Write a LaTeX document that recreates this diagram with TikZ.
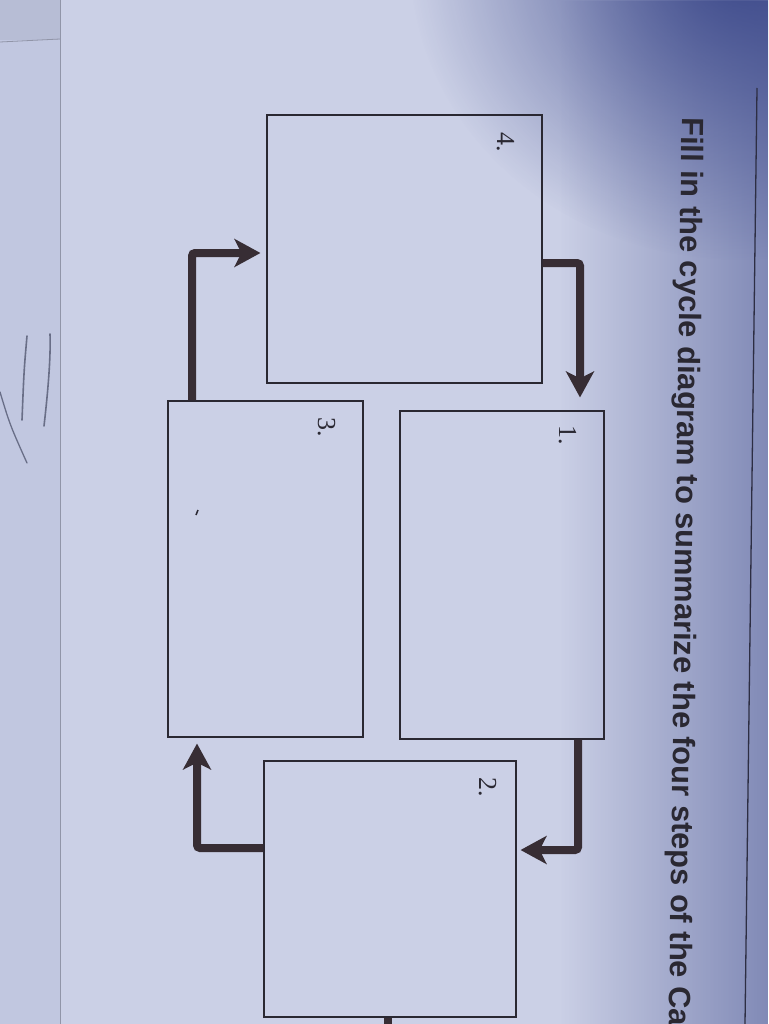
\documentclass[tikz,border=0pt]{standalone}
\usepackage{fontspec}
\setmainfont{Liberation Serif}
\newfontfamily\titlefont{Liberation Sans}
\usetikzlibrary{arrows.meta,calc,fadings}
\definecolor{paper}{RGB}{203,208,230}
\definecolor{paperleft}{RGB}{193,199,224}
\definecolor{shadow}{RGB}{55,68,135}
\definecolor{ink}{RGB}{42,40,50}
\definecolor{arrowink}{RGB}{55,45,52}
\definecolor{pencil}{RGB}{105,110,135}
\tikzfading[name=softspot, inner color=transparent!0, outer color=transparent!100]
\begin{document}
\begin{tikzpicture}[x=1pt,y=-1pt,
  box/.style={draw=ink, line width=1.1pt, inner sep=0pt},
  flow/.style={draw=arrowink, line width=8pt, rounded corners=3pt,
    -{Stealth[length=26pt,width=28pt,inset=7pt]}},
  numlabel/.style={font=\fontsize{26}{28}\selectfont, text=ink, rotate=-90, anchor=north west, inner sep=0pt},
  titletext/.style={font=\titlefont\bfseries\fontsize{30.8}{33}\selectfont, text=ink, rotate=-90.8, anchor=base west, inner sep=0pt}]
\useasboundingbox (0,0) rectangle (768,1024);
\clip (0,0) rectangle (768,1024);
% paper
\fill[paper] (0,0) rectangle (768,1024);
\fill[paperleft] (0,0) rectangle (60,1024);
\fill[paperleft!95!black] (0,0) rectangle (60,40);
\draw[paperleft!75!black, line width=0.8pt] (60,0) -- (60,1024);
\draw[paperleft!75!black, line width=0.8pt] (0,42) -- (60,39);
\fill[shadow, path fading=west, opacity=0.5] (560,0) rectangle (768,1024);
\fill[shadow, path fading=softspot, opacity=0.95] (740,-40) ellipse [x radius=330, y radius=300];
% pencil marks on left sheet
\draw[pencil, line width=1.6pt, line cap=round] (27,336) .. controls (24,370) .. (22,420);
\draw[pencil, line width=1.6pt, line cap=round] (50,334) .. controls (51,360) and (47,400) .. (44,426);
\draw[pencil, line width=1.3pt, line cap=round] (0,392) .. controls (10,425) .. (27,463);
% right margin line
\draw[ink!80!shadow, line width=1.3pt] (757,88) -- (745,1024);
% title
\node[titletext] (title) at (682,117) {Fill in the cycle diagram to summarize the four steps of the Ca};
% boxes
\node[box, minimum width=275, minimum height=268] (b4) at (404.5,249) {};
\node[box, minimum width=204, minimum height=328] (b1) at (502,575) {};
\node[box, minimum width=195, minimum height=336] (b3) at (265.5,569) {};
\node[box, minimum width=252, minimum height=256] (b2) at (390,889) {};
% number labels
\node[numlabel] (n4) at ([xshift=-28pt,yshift=-18pt]b4.north east) {4.};
\node[numlabel] (n1) at ([xshift=-28pt,yshift=-15pt]b1.north east) {1.};
\node[numlabel] (n3) at ([xshift=-28pt,yshift=-17pt]b3.north east) {3.};
\node[numlabel] (n2) at ([xshift=-20pt,yshift=-17pt]b2.north east) {2.};
% small mark in box 3
\draw[ink, line width=1.5pt] (198,510) -- (196,515);
% connectors
\draw[flow] ([yshift=-14pt]b4.east) -| ([xshift=78pt,yshift=13pt]b1.north);
\draw[flow] ([xshift=76pt]b1.south) |- ([xshift=4pt,yshift=39pt]b2.east);
\draw[flow] ([yshift=41pt]b2.west) -| ([xshift=-68.5pt,yshift=-6pt]b3.south);
\draw[flow] ([xshift=-73.5pt]b3.north) |- ([xshift=-6pt,yshift=-4pt]b4.west);
\coordinate (out) at (388,1040);
\draw[draw=arrowink, line width=8pt] ([xshift=-2pt]b2.south) -- (out);
\end{tikzpicture}
\end{document}
